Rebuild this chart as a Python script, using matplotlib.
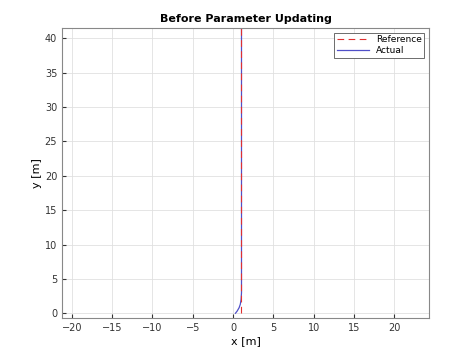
import matplotlib
matplotlib.use("Agg")
import matplotlib.pyplot as plt

ref_x = [1.0, 1.0, 1.0, 1.0]
ref_y = [0.0, 1.0, 2.0, 42.0]
act_x = [0.3, 0.5, 0.75, 0.9, 1.0, 1.05, 1.05, 1.05]
act_y = [0.0, 0.3, 0.8, 1.3, 2.0, 3.0, 10.0, 42.0]

fig = plt.figure(figsize=(4.74, 3.55), dpi=100)
ax = fig.add_axes([0.131, 0.104, 0.774, 0.817])
ax.plot(act_x, act_y, color='#5050c8', lw=0.9, label='Actual', zorder=2)
ax.plot(ref_x, ref_y, color='#e03030', lw=0.8, ls=(0, (6, 4)), label='Reference', zorder=3)
ax.set_xlim(-21.2, 24.3)
ax.set_ylim(-0.7, 41.5)
ax.set_xticks(range(-20, 25, 5))
ax.set_yticks(range(0, 45, 5))
ax.grid(True, color='#e0e0e0', lw=0.6)
ax.tick_params(labelsize=7, colors='#333333', direction='in', length=3)
for s in ax.spines.values():
    s.set_color('#888888')
    s.set_linewidth(0.8)
ax.set_xlabel('x [m]', fontsize=8, labelpad=2)
ax.set_ylabel('y [m]', fontsize=8, labelpad=2)
ax.set_title('Before Parameter Updating', fontsize=8, fontweight='bold', pad=4)
h, l = ax.get_legend_handles_labels()
leg = ax.legend([h[1], h[0]], [l[1], l[0]], loc='upper right', fontsize=6.5,
                fancybox=False, edgecolor='#555555', framealpha=1, handlelength=3.5,
                borderpad=0.3, labelspacing=0.2)
leg.get_frame().set_linewidth(0.6)
fig.savefig('out.png', dpi=100)
